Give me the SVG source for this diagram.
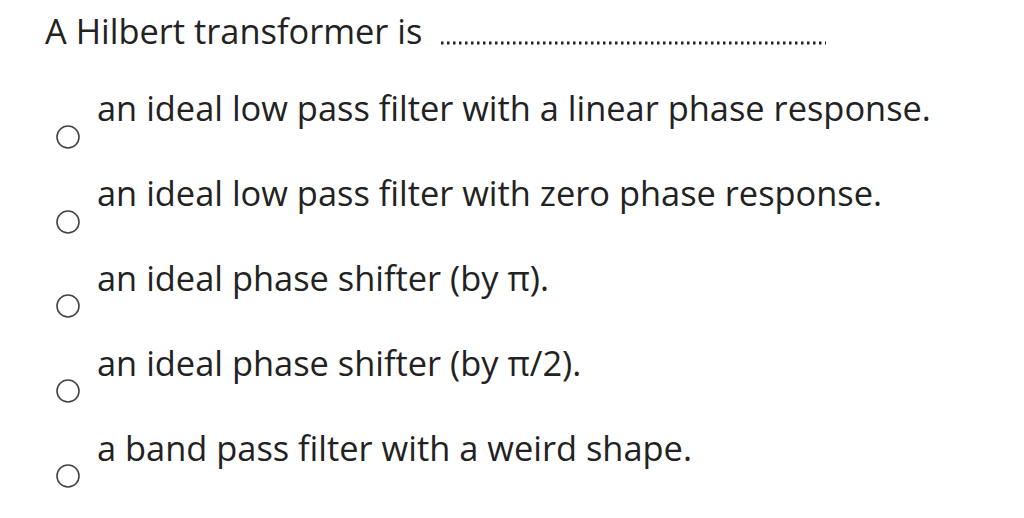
<svg xmlns="http://www.w3.org/2000/svg" width="1024" height="518" viewBox="0 0 1024 518">
<style>
text{font-family:"Open Sans",sans-serif;font-size:34.4px;fill:#222}
circle{fill:#fff;stroke:#444;stroke-width:1.6}
</style>
<rect width="1024" height="518" fill="#fff"/>
<g id="question"><text x="45" y="44" font-size="34.8">A Hilbert transformer is</text>
<line x1="441" y1="43" x2="826" y2="43" stroke="#222" stroke-width="3" stroke-dasharray="2.5 3.5"/></g>
<g id="opt1"><circle cx="68" cy="137" r="11"/><text x="97" y="121">an ideal low pass filter with a linear phase response.</text></g>
<g id="opt2"><circle cx="68" cy="222" r="11"/><text x="97" y="206">an ideal low pass filter with zero phase response.</text></g>
<g id="opt3"><circle cx="68" cy="306" r="11"/><text x="97" y="291">an ideal phase shifter (by π).</text></g>
<g id="opt4"><circle cx="68" cy="391" r="11"/><text x="97" y="376">an ideal phase shifter (by π/2).</text></g>
<g id="opt5"><circle cx="68" cy="476" r="11"/><text x="97" y="461">a band pass filter with a weird shape.</text></g>
<g id="connectors"/>
</svg>
